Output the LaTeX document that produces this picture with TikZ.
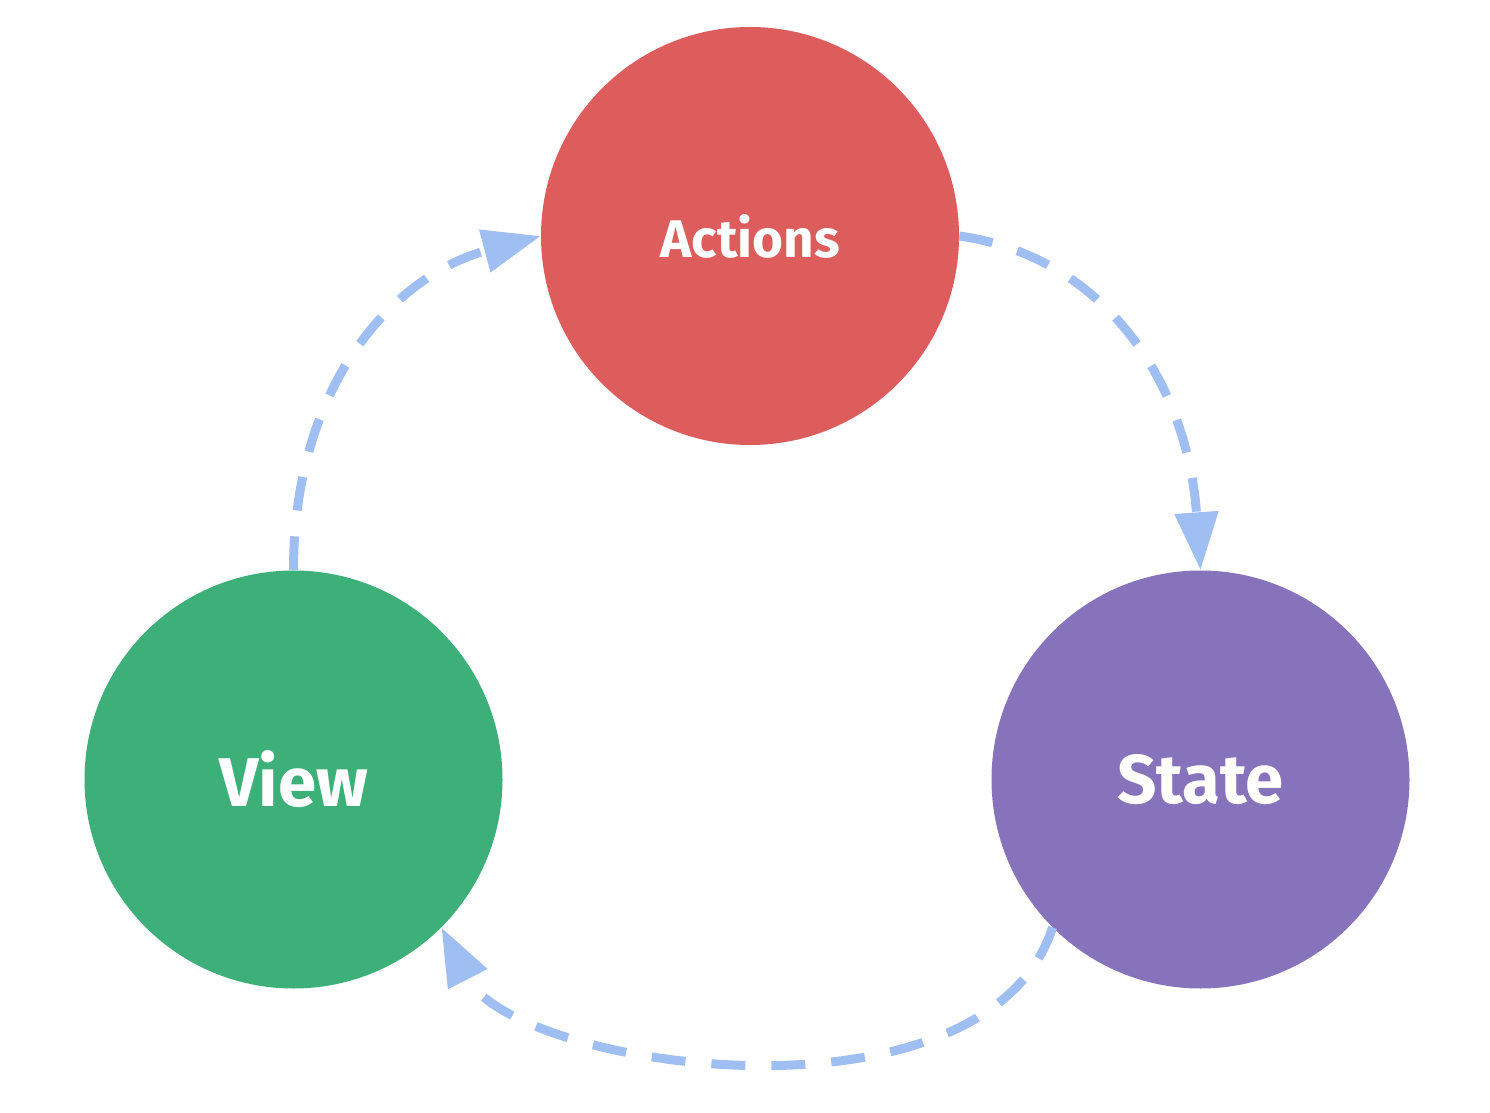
\documentclass[tikz,border=0pt]{standalone}
\usepackage{fontspec}
\setmainfont{Fira Sans}
\usetikzlibrary{arrows.meta}
\definecolor{actred}{HTML}{DD5C5C}
\definecolor{viewgreen}{HTML}{3DB07A}
\definecolor{statepurple}{HTML}{8673BB}
\definecolor{arrowblue}{HTML}{9FBEF2}
\begin{document}
\begin{tikzpicture}[x=1pt,y=1pt,
  bubble/.style={circle, minimum size=418pt, inner sep=0pt, text=white},
  flow/.style={draw=arrowblue, line width=9pt, dash pattern=on 34pt off 26pt,
    -{Triangle[length=58pt,width=42pt]}}]
\useasboundingbox (0,0) rectangle (1490,1112);
\node[bubble, fill=actred, font=\fontsize{53}{60}\selectfont\bfseries] (actions) at (750,876) {Actions};
\node[bubble, fill=viewgreen, font=\fontsize{69}{76}\selectfont\bfseries] (view) at (293.5,332.5) {View};
\node[bubble, fill=statepurple, font=\fontsize{69}{76}\selectfont\bfseries] (state) at (1200.5,332.5) {State};
\draw[flow] (view.north) .. controls +(90:188) and +(195:150) .. (actions.west);
\draw[flow] (actions.east) .. controls +(-8:147) and +(94:188) .. (state.north);
\draw[flow] (state.225) .. controls +(252:220) and +(297:160) .. (view.-45);
\end{tikzpicture}
\end{document}
